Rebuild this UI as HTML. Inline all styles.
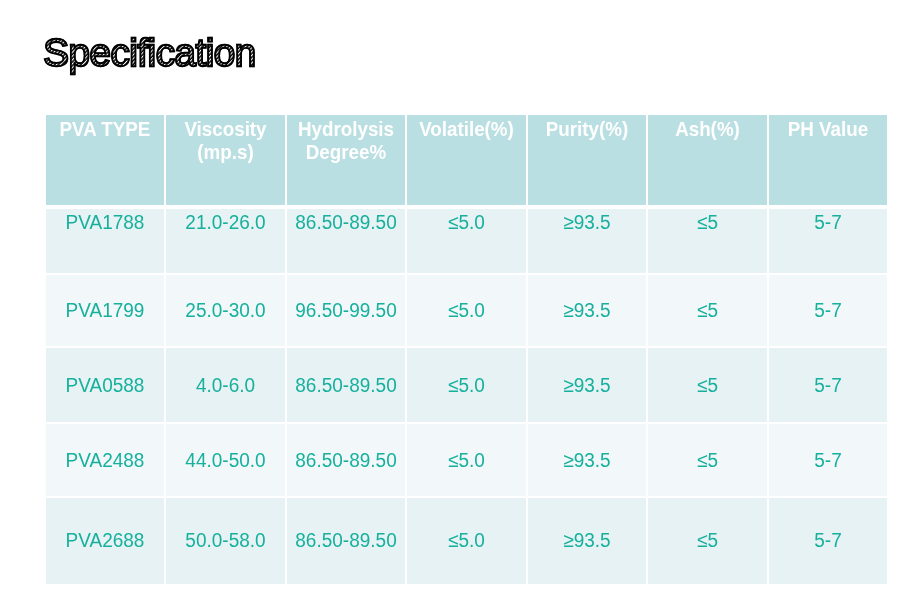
<!DOCTYPE html>
<html><head><meta charset="utf-8">
<style>
html,body{margin:0;padding:0;background:#fff;width:916px;height:616px;overflow:hidden;}
body{position:relative;font-family:"Liberation Sans",sans-serif;}
.c{position:absolute;}
.h{position:absolute;text-align:center;color:#fff;font-weight:bold;font-size:18.8px;line-height:23px;white-space:nowrap;}
.h span,.t span{display:inline-block;transform:scaleY(1.055);transform-origin:50% 78%;}
.t{position:absolute;text-align:center;color:#16B09C;font-size:19px;line-height:23px;white-space:nowrap;}
#title{position:absolute;left:0;top:0;}
</style></head><body>
<svg id="title" width="300" height="100">
<defs><pattern id="hatch" width="2.8" height="4" patternUnits="userSpaceOnUse" patternTransform="rotate(45)"><rect width="2.8" height="4" fill="#000"/><rect width="1.2" height="4" fill="#fff"/></pattern>
<filter id="sh" x="-5%" y="-20%" width="110%" height="140%"><feGaussianBlur in="SourceAlpha" stdDeviation="0.6"/><feOffset dx="0.5" dy="0.5"/><feComponentTransfer><feFuncA type="linear" slope="0.3"/></feComponentTransfer><feMerge><feMergeNode/><feMergeNode in="SourceGraphic"/></feMerge></filter></defs>
<g transform="translate(43.3,66) scale(0.94,0.96)" filter="url(#sh)" font-family="Liberation Sans" font-size="41" letter-spacing="-0.5"><text x="0" y="0" fill="#000" stroke="#000" stroke-width="2.4">Specification</text><text x="0" y="0" fill="url(#hatch)" stroke="#000" stroke-width="1.5">Specification</text></g>
</svg>
<div class="c" style="left:46px;top:115px;width:118px;height:90px;background:#BADFE2"></div>
<div class="c" style="left:166px;top:115px;width:119px;height:90px;background:#BADFE2"></div>
<div class="c" style="left:287px;top:115px;width:118px;height:90px;background:#BADFE2"></div>
<div class="c" style="left:407px;top:115px;width:119px;height:90px;background:#BADFE2"></div>
<div class="c" style="left:528px;top:115px;width:118px;height:90px;background:#BADFE2"></div>
<div class="c" style="left:648px;top:115px;width:119px;height:90px;background:#BADFE2"></div>
<div class="c" style="left:769px;top:115px;width:118px;height:90px;background:#BADFE2"></div>
<div class="c" style="left:46px;top:209px;width:118px;height:64px;background:#E6F2F4"></div>
<div class="c" style="left:166px;top:209px;width:119px;height:64px;background:#E6F2F4"></div>
<div class="c" style="left:287px;top:209px;width:118px;height:64px;background:#E6F2F4"></div>
<div class="c" style="left:407px;top:209px;width:119px;height:64px;background:#E6F2F4"></div>
<div class="c" style="left:528px;top:209px;width:118px;height:64px;background:#E6F2F4"></div>
<div class="c" style="left:648px;top:209px;width:119px;height:64px;background:#E6F2F4"></div>
<div class="c" style="left:769px;top:209px;width:118px;height:64px;background:#E6F2F4"></div>
<div class="c" style="left:46px;top:275px;width:118px;height:71px;background:#F2F8FA"></div>
<div class="c" style="left:166px;top:275px;width:119px;height:71px;background:#F2F8FA"></div>
<div class="c" style="left:287px;top:275px;width:118px;height:71px;background:#F2F8FA"></div>
<div class="c" style="left:407px;top:275px;width:119px;height:71px;background:#F2F8FA"></div>
<div class="c" style="left:528px;top:275px;width:118px;height:71px;background:#F2F8FA"></div>
<div class="c" style="left:648px;top:275px;width:119px;height:71px;background:#F2F8FA"></div>
<div class="c" style="left:769px;top:275px;width:118px;height:71px;background:#F2F8FA"></div>
<div class="c" style="left:46px;top:348px;width:118px;height:74px;background:#E6F2F4"></div>
<div class="c" style="left:166px;top:348px;width:119px;height:74px;background:#E6F2F4"></div>
<div class="c" style="left:287px;top:348px;width:118px;height:74px;background:#E6F2F4"></div>
<div class="c" style="left:407px;top:348px;width:119px;height:74px;background:#E6F2F4"></div>
<div class="c" style="left:528px;top:348px;width:118px;height:74px;background:#E6F2F4"></div>
<div class="c" style="left:648px;top:348px;width:119px;height:74px;background:#E6F2F4"></div>
<div class="c" style="left:769px;top:348px;width:118px;height:74px;background:#E6F2F4"></div>
<div class="c" style="left:46px;top:424px;width:118px;height:72px;background:#F2F8FA"></div>
<div class="c" style="left:166px;top:424px;width:119px;height:72px;background:#F2F8FA"></div>
<div class="c" style="left:287px;top:424px;width:118px;height:72px;background:#F2F8FA"></div>
<div class="c" style="left:407px;top:424px;width:119px;height:72px;background:#F2F8FA"></div>
<div class="c" style="left:528px;top:424px;width:118px;height:72px;background:#F2F8FA"></div>
<div class="c" style="left:648px;top:424px;width:119px;height:72px;background:#F2F8FA"></div>
<div class="c" style="left:769px;top:424px;width:118px;height:72px;background:#F2F8FA"></div>
<div class="c" style="left:46px;top:498px;width:118px;height:86px;background:#E6F2F4"></div>
<div class="c" style="left:166px;top:498px;width:119px;height:86px;background:#E6F2F4"></div>
<div class="c" style="left:287px;top:498px;width:118px;height:86px;background:#E6F2F4"></div>
<div class="c" style="left:407px;top:498px;width:119px;height:86px;background:#E6F2F4"></div>
<div class="c" style="left:528px;top:498px;width:118px;height:86px;background:#E6F2F4"></div>
<div class="c" style="left:648px;top:498px;width:119px;height:86px;background:#E6F2F4"></div>
<div class="c" style="left:769px;top:498px;width:118px;height:86px;background:#E6F2F4"></div>
<div class="h" style="left:46px;top:118.22px;width:118px"><span>PVA TYPE</span></div>
<div class="h" style="left:166px;top:118.22px;width:119px"><span>Viscosity</span><br><span>(mp.s)</span></div>
<div class="h" style="left:287px;top:118.22px;width:118px"><span>Hydrolysis</span><br><span>Degree%</span></div>
<div class="h" style="left:407px;top:118.22px;width:119px"><span>Volatile(%)</span></div>
<div class="h" style="left:528px;top:118.22px;width:118px"><span>Purity(%)</span></div>
<div class="h" style="left:648px;top:118.22px;width:119px"><span>Ash(%)</span></div>
<div class="h" style="left:769px;top:118.22px;width:118px"><span>PH Value</span></div>
<div class="t" style="left:46px;top:210.92px;width:118px"><span>PVA1788</span></div>
<div class="t" style="left:166px;top:210.92px;width:119px"><span>21.0-26.0</span></div>
<div class="t" style="left:287px;top:210.92px;width:118px"><span>86.50-89.50</span></div>
<div class="t" style="left:407px;top:210.92px;width:119px"><span>≤5.0</span></div>
<div class="t" style="left:528px;top:210.92px;width:118px"><span>≥93.5</span></div>
<div class="t" style="left:648px;top:210.92px;width:119px"><span>≤5</span></div>
<div class="t" style="left:769px;top:210.92px;width:118px"><span>5-7</span></div>
<div class="t" style="left:46px;top:298.92px;width:118px"><span>PVA1799</span></div>
<div class="t" style="left:166px;top:298.92px;width:119px"><span>25.0-30.0</span></div>
<div class="t" style="left:287px;top:298.92px;width:118px"><span>96.50-99.50</span></div>
<div class="t" style="left:407px;top:298.92px;width:119px"><span>≤5.0</span></div>
<div class="t" style="left:528px;top:298.92px;width:118px"><span>≥93.5</span></div>
<div class="t" style="left:648px;top:298.92px;width:119px"><span>≤5</span></div>
<div class="t" style="left:769px;top:298.92px;width:118px"><span>5-7</span></div>
<div class="t" style="left:46px;top:373.92px;width:118px"><span>PVA0588</span></div>
<div class="t" style="left:166px;top:373.92px;width:119px"><span>4.0-6.0</span></div>
<div class="t" style="left:287px;top:373.92px;width:118px"><span>86.50-89.50</span></div>
<div class="t" style="left:407px;top:373.92px;width:119px"><span>≤5.0</span></div>
<div class="t" style="left:528px;top:373.92px;width:118px"><span>≥93.5</span></div>
<div class="t" style="left:648px;top:373.92px;width:119px"><span>≤5</span></div>
<div class="t" style="left:769px;top:373.92px;width:118px"><span>5-7</span></div>
<div class="t" style="left:46px;top:448.92px;width:118px"><span>PVA2488</span></div>
<div class="t" style="left:166px;top:448.92px;width:119px"><span>44.0-50.0</span></div>
<div class="t" style="left:287px;top:448.92px;width:118px"><span>86.50-89.50</span></div>
<div class="t" style="left:407px;top:448.92px;width:119px"><span>≤5.0</span></div>
<div class="t" style="left:528px;top:448.92px;width:118px"><span>≥93.5</span></div>
<div class="t" style="left:648px;top:448.92px;width:119px"><span>≤5</span></div>
<div class="t" style="left:769px;top:448.92px;width:118px"><span>5-7</span></div>
<div class="t" style="left:46px;top:528.92px;width:118px"><span>PVA2688</span></div>
<div class="t" style="left:166px;top:528.92px;width:119px"><span>50.0-58.0</span></div>
<div class="t" style="left:287px;top:528.92px;width:118px"><span>86.50-89.50</span></div>
<div class="t" style="left:407px;top:528.92px;width:119px"><span>≤5.0</span></div>
<div class="t" style="left:528px;top:528.92px;width:118px"><span>≥93.5</span></div>
<div class="t" style="left:648px;top:528.92px;width:119px"><span>≤5</span></div>
<div class="t" style="left:769px;top:528.92px;width:118px"><span>5-7</span></div>
</body></html>
